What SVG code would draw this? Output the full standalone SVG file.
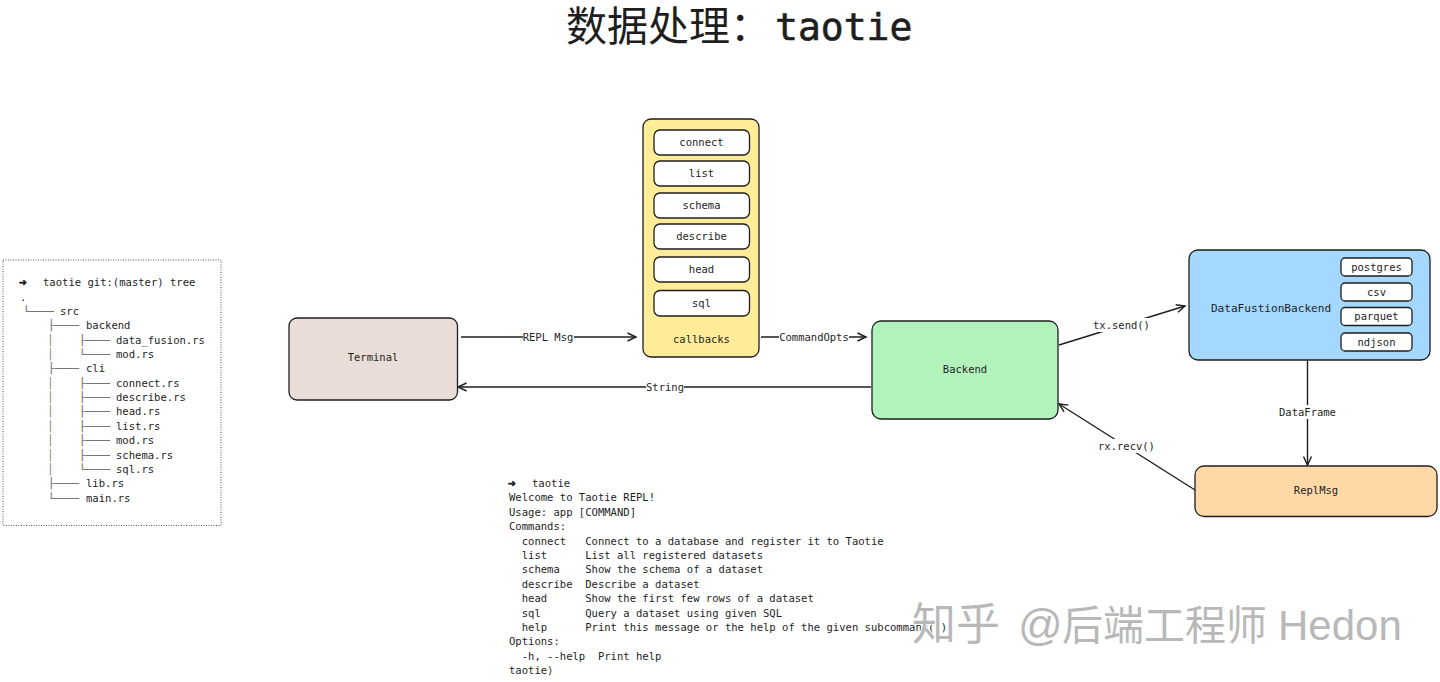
<svg xmlns="http://www.w3.org/2000/svg" width="1440" height="682" viewBox="0 0 1440 682">
<style>
text{font-family:"DejaVu Sans Mono","Liberation Mono","Noto Sans CJK SC",monospace;fill:#1e1e1e;white-space:pre}
.box{stroke:#1e1e1e;stroke-width:1.3}
.inner{fill:#fff;stroke:#1e1e1e;stroke-width:1.3}
.lb{font-size:10.5px;text-anchor:middle}
.t{font-size:10.55px}
.ar{font-size:13px;font-weight:bold;stroke:#1e1e1e;stroke-width:.5}
.tr{font-size:10.55px;fill:#777}
.conn{fill:none;stroke:#1e1e1e;stroke-width:1.4}
.bg{fill:#fff}
</style>
<defs>
<marker id="arr" markerUnits="userSpaceOnUse" markerWidth="14" markerHeight="14" refX="11" refY="7" orient="auto">
<path d="M2.5 3 L11 7 L2.5 11" fill="none" stroke="#1e1e1e" stroke-width="1.4"/>
</marker>
</defs>
<rect width="1440" height="682" fill="#fff"/>
<g id="title">
<text x="566" y="41" style="font-family:'Noto Sans CJK SC',sans-serif;font-size:41px" fill="#1e1e1e">数据处理：</text>
<text x="775" y="40" style="font-size:38px;stroke:#1e1e1e;stroke-width:.6">taotie</text>
</g>
<g id="connectors">
<path class="conn" d="M461 337H636" marker-end="url(#arr)"/>
<path class="conn" d="M761 337H866" marker-end="url(#arr)"/>
<path class="conn" d="M871 387H458" marker-end="url(#arr)"/>
<path class="conn" d="M1059 345L1185 306" marker-end="url(#arr)"/>
<path class="conn" d="M1195 490L1059 404" marker-end="url(#arr)"/>
<path class="conn" d="M1307.500 360V465" marker-end="url(#arr)"/>
<rect class="bg" x="523" y="330" width="51" height="14"/>
<text class="lb" x="548" y="340.500">REPL Msg</text>
<rect class="bg" x="779" y="330" width="70" height="14"/>
<text class="lb" x="814" y="340.500">CommandOpts</text>
<rect class="bg" x="646" y="380" width="38" height="14"/>
<text class="lb" x="665" y="390.500">String</text>
<rect class="bg" x="1092" y="318" width="59" height="14"/>
<text class="lb" x="1121.500" y="328.500">tx.send()</text>
<rect class="bg" x="1097" y="439" width="59" height="14"/>
<text class="lb" x="1126.500" y="449.500">rx.recv()</text>
<rect class="bg" x="1278" y="405" width="59" height="14"/>
<text class="lb" x="1307.500" y="415.500">DataFrame</text>
</g>
<g id="terminal">
<rect class="box" x="289" y="318" width="168.500" height="82" rx="8" fill="#eaddd7"/>
<text class="lb" x="373" y="361">Terminal</text>
</g>
<g id="callbacks">
<rect class="box" x="643" y="119" width="116" height="238" rx="8" fill="#ffec99"/>
<text class="lb" x="701.500" y="343">callbacks</text>
</g>
<g id="cb-connect"><rect class="inner" x="654" y="130" width="95.500" height="25" rx="6"/><text class="lb" x="701.500" y="146">connect</text></g>
<g id="cb-list"><rect class="inner" x="654" y="161" width="95.500" height="25" rx="6"/><text class="lb" x="701.500" y="177">list</text></g>
<g id="cb-schema"><rect class="inner" x="654" y="193" width="95.500" height="25" rx="6"/><text class="lb" x="701.500" y="209">schema</text></g>
<g id="cb-describe"><rect class="inner" x="654" y="224" width="95.500" height="25" rx="6"/><text class="lb" x="701.500" y="240">describe</text></g>
<g id="cb-head"><rect class="inner" x="654" y="257" width="95.500" height="25" rx="6"/><text class="lb" x="701.500" y="273">head</text></g>
<g id="cb-sql"><rect class="inner" x="654" y="290.500" width="95.500" height="25.500" rx="6"/><text class="lb" x="701.500" y="307">sql</text></g>
<g id="backend">
<rect class="box" x="872" y="321" width="186" height="98" rx="9" fill="#b2f2bb"/>
<text class="lb" x="965" y="373">Backend</text>
</g>
<g id="datafusion">
<rect class="box" x="1189" y="250" width="241" height="110" rx="9" fill="#a5d8ff"/>
<text class="lb" style="font-size:11.100px" x="1271" y="312">DataFustionBackend</text>
</g>
<g id="df-postgres"><rect class="inner" x="1341" y="258" width="71" height="18" rx="4"/><text class="lb" x="1376.500" y="271">postgres</text></g>
<g id="df-csv"><rect class="inner" x="1341" y="283" width="71" height="18" rx="4"/><text class="lb" x="1376.500" y="295.500">csv</text></g>
<g id="df-parquet"><rect class="inner" x="1341" y="307.500" width="71" height="18" rx="4"/><text class="lb" x="1376.500" y="320">parquet</text></g>
<g id="df-ndjson"><rect class="inner" x="1341" y="333" width="71" height="18" rx="4"/><text class="lb" x="1376.500" y="345.500">ndjson</text></g>
<g id="replmsg">
<rect class="box" x="1195" y="466" width="242" height="50.500" rx="9" fill="#ffd8a8"/>
<text class="lb" x="1316" y="494">ReplMsg</text>
</g>
<g id="tree">
<rect x="3" y="260" width="218" height="265.500" fill="none" stroke="#555" stroke-width="1" stroke-dasharray="1 1.500"/>
<text class="t ar" x="19" y="287">➜</text><text class="t" x="43" y="286">taotie git:(master) tree</text>
<text class="t" x="20" y="300.500">.</text>
<text class="tr" x="22" y="315" textLength="32" lengthAdjust="spacingAndGlyphs">└───</text><text class="t" x="60" y="315">src</text>
<text class="tr" x="47" y="329" textLength="32" lengthAdjust="spacingAndGlyphs">├───</text><text class="t" x="86" y="329">backend</text>
<text class="tr" x="47" y="343.500">│</text><text class="tr" x="78" y="343.500" textLength="32" lengthAdjust="spacingAndGlyphs">├───</text><text class="t" x="116" y="343.500">data_fusion.rs</text>
<text class="tr" x="47" y="358">│</text><text class="tr" x="78" y="358" textLength="32" lengthAdjust="spacingAndGlyphs">└───</text><text class="t" x="116" y="358">mod.rs</text>
<text class="tr" x="47" y="372" textLength="32" lengthAdjust="spacingAndGlyphs">├───</text><text class="t" x="86" y="372">cli</text>
<text class="tr" x="47" y="386.500">│</text><text class="tr" x="78" y="386.500" textLength="32" lengthAdjust="spacingAndGlyphs">├───</text><text class="t" x="116" y="386.500">connect.rs</text>
<text class="tr" x="47" y="401">│</text><text class="tr" x="78" y="401" textLength="32" lengthAdjust="spacingAndGlyphs">├───</text><text class="t" x="116" y="401">describe.rs</text>
<text class="tr" x="47" y="415">│</text><text class="tr" x="78" y="415" textLength="32" lengthAdjust="spacingAndGlyphs">├───</text><text class="t" x="116" y="415">head.rs</text>
<text class="tr" x="47" y="429.500">│</text><text class="tr" x="78" y="429.500" textLength="32" lengthAdjust="spacingAndGlyphs">├───</text><text class="t" x="116" y="429.500">list.rs</text>
<text class="tr" x="47" y="444">│</text><text class="tr" x="78" y="444" textLength="32" lengthAdjust="spacingAndGlyphs">├───</text><text class="t" x="116" y="444">mod.rs</text>
<text class="tr" x="47" y="458.500">│</text><text class="tr" x="78" y="458.500" textLength="32" lengthAdjust="spacingAndGlyphs">├───</text><text class="t" x="116" y="458.500">schema.rs</text>
<text class="tr" x="47" y="473">│</text><text class="tr" x="78" y="473" textLength="32" lengthAdjust="spacingAndGlyphs">└───</text><text class="t" x="116" y="473">sql.rs</text>
<text class="tr" x="47" y="487" textLength="32" lengthAdjust="spacingAndGlyphs">├───</text><text class="t" x="86" y="487">lib.rs</text>
<text class="tr" x="47" y="502" textLength="32" lengthAdjust="spacingAndGlyphs">└───</text><text class="t" x="86" y="502">main.rs</text>
</g>
<g id="repl">
<text class="t ar" x="508" y="488">➜</text><text class="t" x="532" y="487">taotie</text>
<text class="t" x="509" y="501.400">Welcome to Taotie REPL!</text>
<text class="t" x="509" y="515.800">Usage: app [COMMAND]</text>
<text class="t" x="509" y="530.200">Commands:</text>
<text class="t" x="509" y="544.600">  connect   Connect to a database and register it to Taotie</text>
<text class="t" x="509" y="559">  list      List all registered datasets</text>
<text class="t" x="509" y="573.400">  schema    Show the schema of a dataset</text>
<text class="t" x="509" y="587.800">  describe  Describe a dataset</text>
<text class="t" x="509" y="602.200">  head      Show the first few rows of a dataset</text>
<text class="t" x="509" y="616.600">  sql       Query a dataset using given SQL</text>
<text class="t" x="509" y="631">  help      Print this message or the help of the given subcommand(s)</text>
<text class="t" x="509" y="645.400">Options:</text>
<text class="t" x="509" y="659.800">  -h, --help  Print help</text>
<text class="t" x="509" y="674.200">taotie⟩</text>
</g>
<g id="watermark">
<text x="912" y="640" style="font-family:'Noto Sans CJK SC',sans-serif;font-size:44px;fill:#b8b8b8;stroke:#fff;stroke-width:2;paint-order:stroke">知乎</text>
<text x="1018" y="640" style="font-family:'Liberation Sans',sans-serif;font-size:44px;fill:#b8b8b8;stroke:#fff;stroke-width:2;paint-order:stroke">@</text>
<text x="1062" y="640" style="font-family:'Noto Sans CJK SC',sans-serif;font-size:41px;fill:#b8b8b8;stroke:#fff;stroke-width:2;paint-order:stroke">后端工程师</text>
<text x="1278" y="640" style="font-family:'Liberation Sans',sans-serif;font-size:42px;fill:#b8b8b8;stroke:#fff;stroke-width:2;paint-order:stroke">Hedon</text>
</g>
</svg>
